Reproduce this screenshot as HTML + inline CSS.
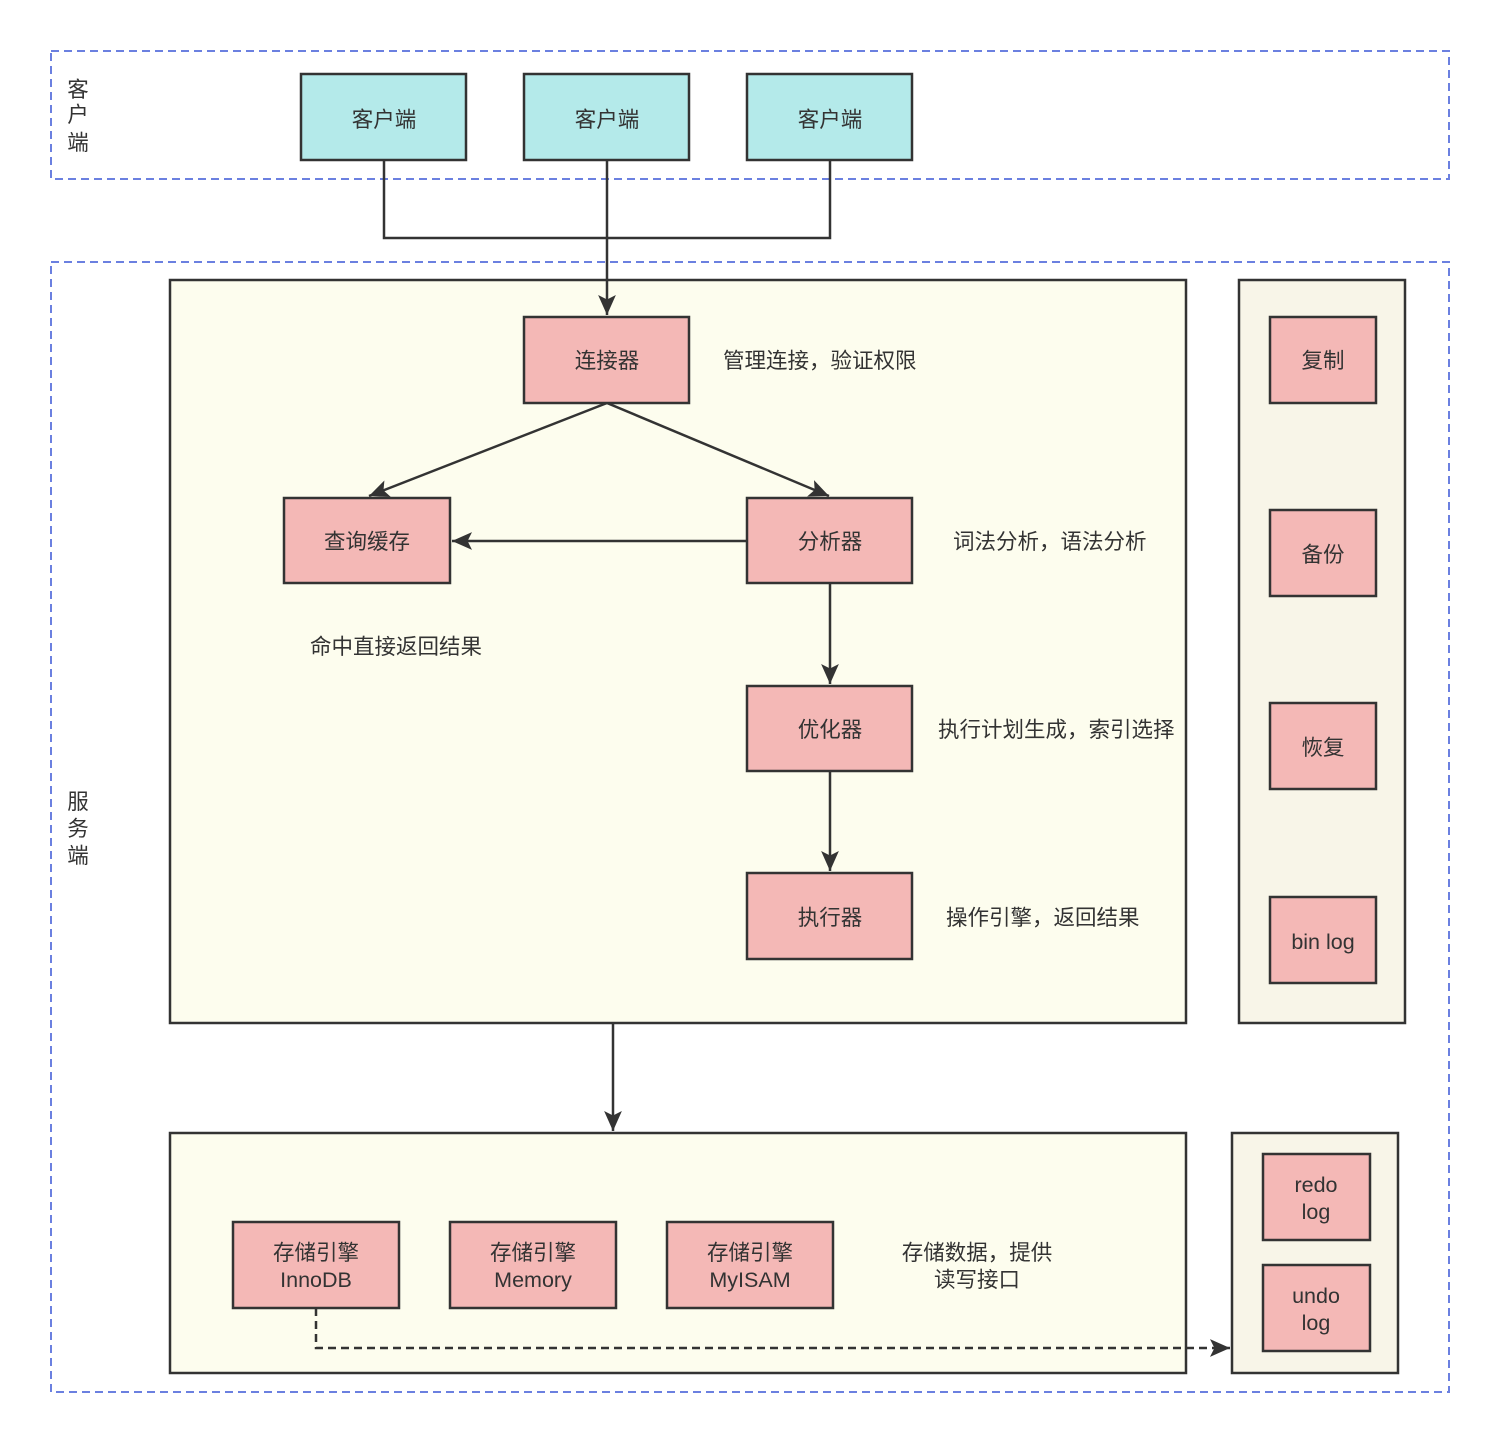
<!DOCTYPE html>
<html><head><meta charset="utf-8"><style>body{margin:0;background:#fff}svg{display:block}text{font-family:"Liberation Sans","Noto Sans CJK SC",sans-serif;font-size:21.5px;fill:#333}</style></head><body>
<svg width="1504" height="1446" viewBox="0 0 1504 1446" xmlns="http://www.w3.org/2000/svg">
<defs>
<marker id="b" markerWidth="20" markerHeight="20" refX="18" refY="9" orient="auto" markerUnits="userSpaceOnUse" viewBox="0 0 18 18"><path d="M0,1 L18,9 L0,17 L4,9 z" fill="#333"/></marker></defs>
<rect x="51" y="51" width="1398" height="128" fill="none" stroke="#6b80e0" stroke-width="2" stroke-dasharray="8,5"/>
<rect x="51" y="262" width="1398" height="1130" fill="none" stroke="#6b80e0" stroke-width="2" stroke-dasharray="8,5"/>
<g text-anchor="middle"><text x="78" y="97">客</text><text x="78" y="122">户</text><text x="78" y="150">端</text>
<text x="78" y="809">服</text><text x="78" y="836">务</text><text x="78" y="863">端</text></g>
<rect x="170" y="280" width="1016" height="743" fill="#fdfdee" stroke="#333" stroke-width="2.5"/>
<rect x="1239" y="280" width="166" height="743" fill="#f8f5e8" stroke="#333" stroke-width="2.5"/>
<rect x="170" y="1133" width="1016" height="240" fill="#fdfdee" stroke="#333" stroke-width="2.5"/>
<rect x="1232" y="1133" width="166" height="240" fill="#f8f5e8" stroke="#333" stroke-width="2.5"/>
<g fill="#b4eaea" stroke="#333" stroke-width="2.5"><rect x="301" y="74" width="165" height="86"/><rect x="524" y="74" width="165" height="86"/><rect x="747" y="74" width="165" height="86"/></g>
<g fill="none" stroke="#333" stroke-width="2.5"><path d="M384,160 V238 H830 V160"/><path d="M607,160 V315" marker-end="url(#b)"/>
<path d="M607,403 L369,496" marker-end="url(#b)"/><path d="M607,403 L829,496" marker-end="url(#b)"/>
<path d="M747,541 H452" marker-end="url(#b)"/><path d="M830,583 V684" marker-end="url(#b)"/><path d="M830,771 V871" marker-end="url(#b)"/>
<path d="M613,1023 V1131" marker-end="url(#b)"/>
<path d="M316,1308 V1348 H1230" stroke-dasharray="8,5" marker-end="url(#b)"/></g>
<g fill="#f4b8b6" stroke="#333" stroke-width="2.5">
<rect x="524" y="317" width="165" height="86"/><rect x="284" y="498" width="166" height="85"/><rect x="747" y="498" width="165" height="85"/>
<rect x="747" y="686" width="165" height="85"/><rect x="747" y="873" width="165" height="86"/>
<rect x="1270" y="317" width="106" height="86"/><rect x="1270" y="510" width="106" height="86"/><rect x="1270" y="703" width="106" height="86"/><rect x="1270" y="897" width="106" height="86"/>
<rect x="1263" y="1154" width="107" height="86"/><rect x="1263" y="1265" width="107" height="86"/>
<rect x="233" y="1222" width="166" height="86"/><rect x="450" y="1222" width="166" height="86"/><rect x="667" y="1222" width="166" height="86"/></g>
<g text-anchor="middle">
<text x="384" y="127">客户端</text><text x="607" y="127">客户端</text><text x="830" y="127">客户端</text>
<text x="607" y="368">连接器</text><text x="367" y="549">查询缓存</text><text x="830" y="549">分析器</text><text x="830" y="737">优化器</text><text x="830" y="925">执行器</text>
<text x="1323" y="368">复制</text><text x="1323" y="562">备份</text><text x="1323" y="755">恢复</text><text x="1323" y="949">bin log</text>
<text x="1316" y="1192">redo</text><text x="1316" y="1219">log</text><text x="1316" y="1303">undo</text><text x="1316" y="1330">log</text>
<text x="316" y="1260">存储引擎</text><text x="316" y="1287">InnoDB</text><text x="533" y="1260">存储引擎</text><text x="533" y="1287">Memory</text><text x="750" y="1260">存储引擎</text><text x="750" y="1287">MyISAM</text>
<text x="977" y="1260">存储数据，提供</text><text x="977" y="1287">读写接口</text></g>
<text x="723" y="368">管理连接，验证权限</text><text x="953" y="549">词法分析，语法分析</text><text x="310" y="654">命中直接返回结果</text>
<text x="938" y="737">执行计划生成，索引选择</text><text x="946" y="925">操作引擎，返回结果</text>
</svg></body></html>
